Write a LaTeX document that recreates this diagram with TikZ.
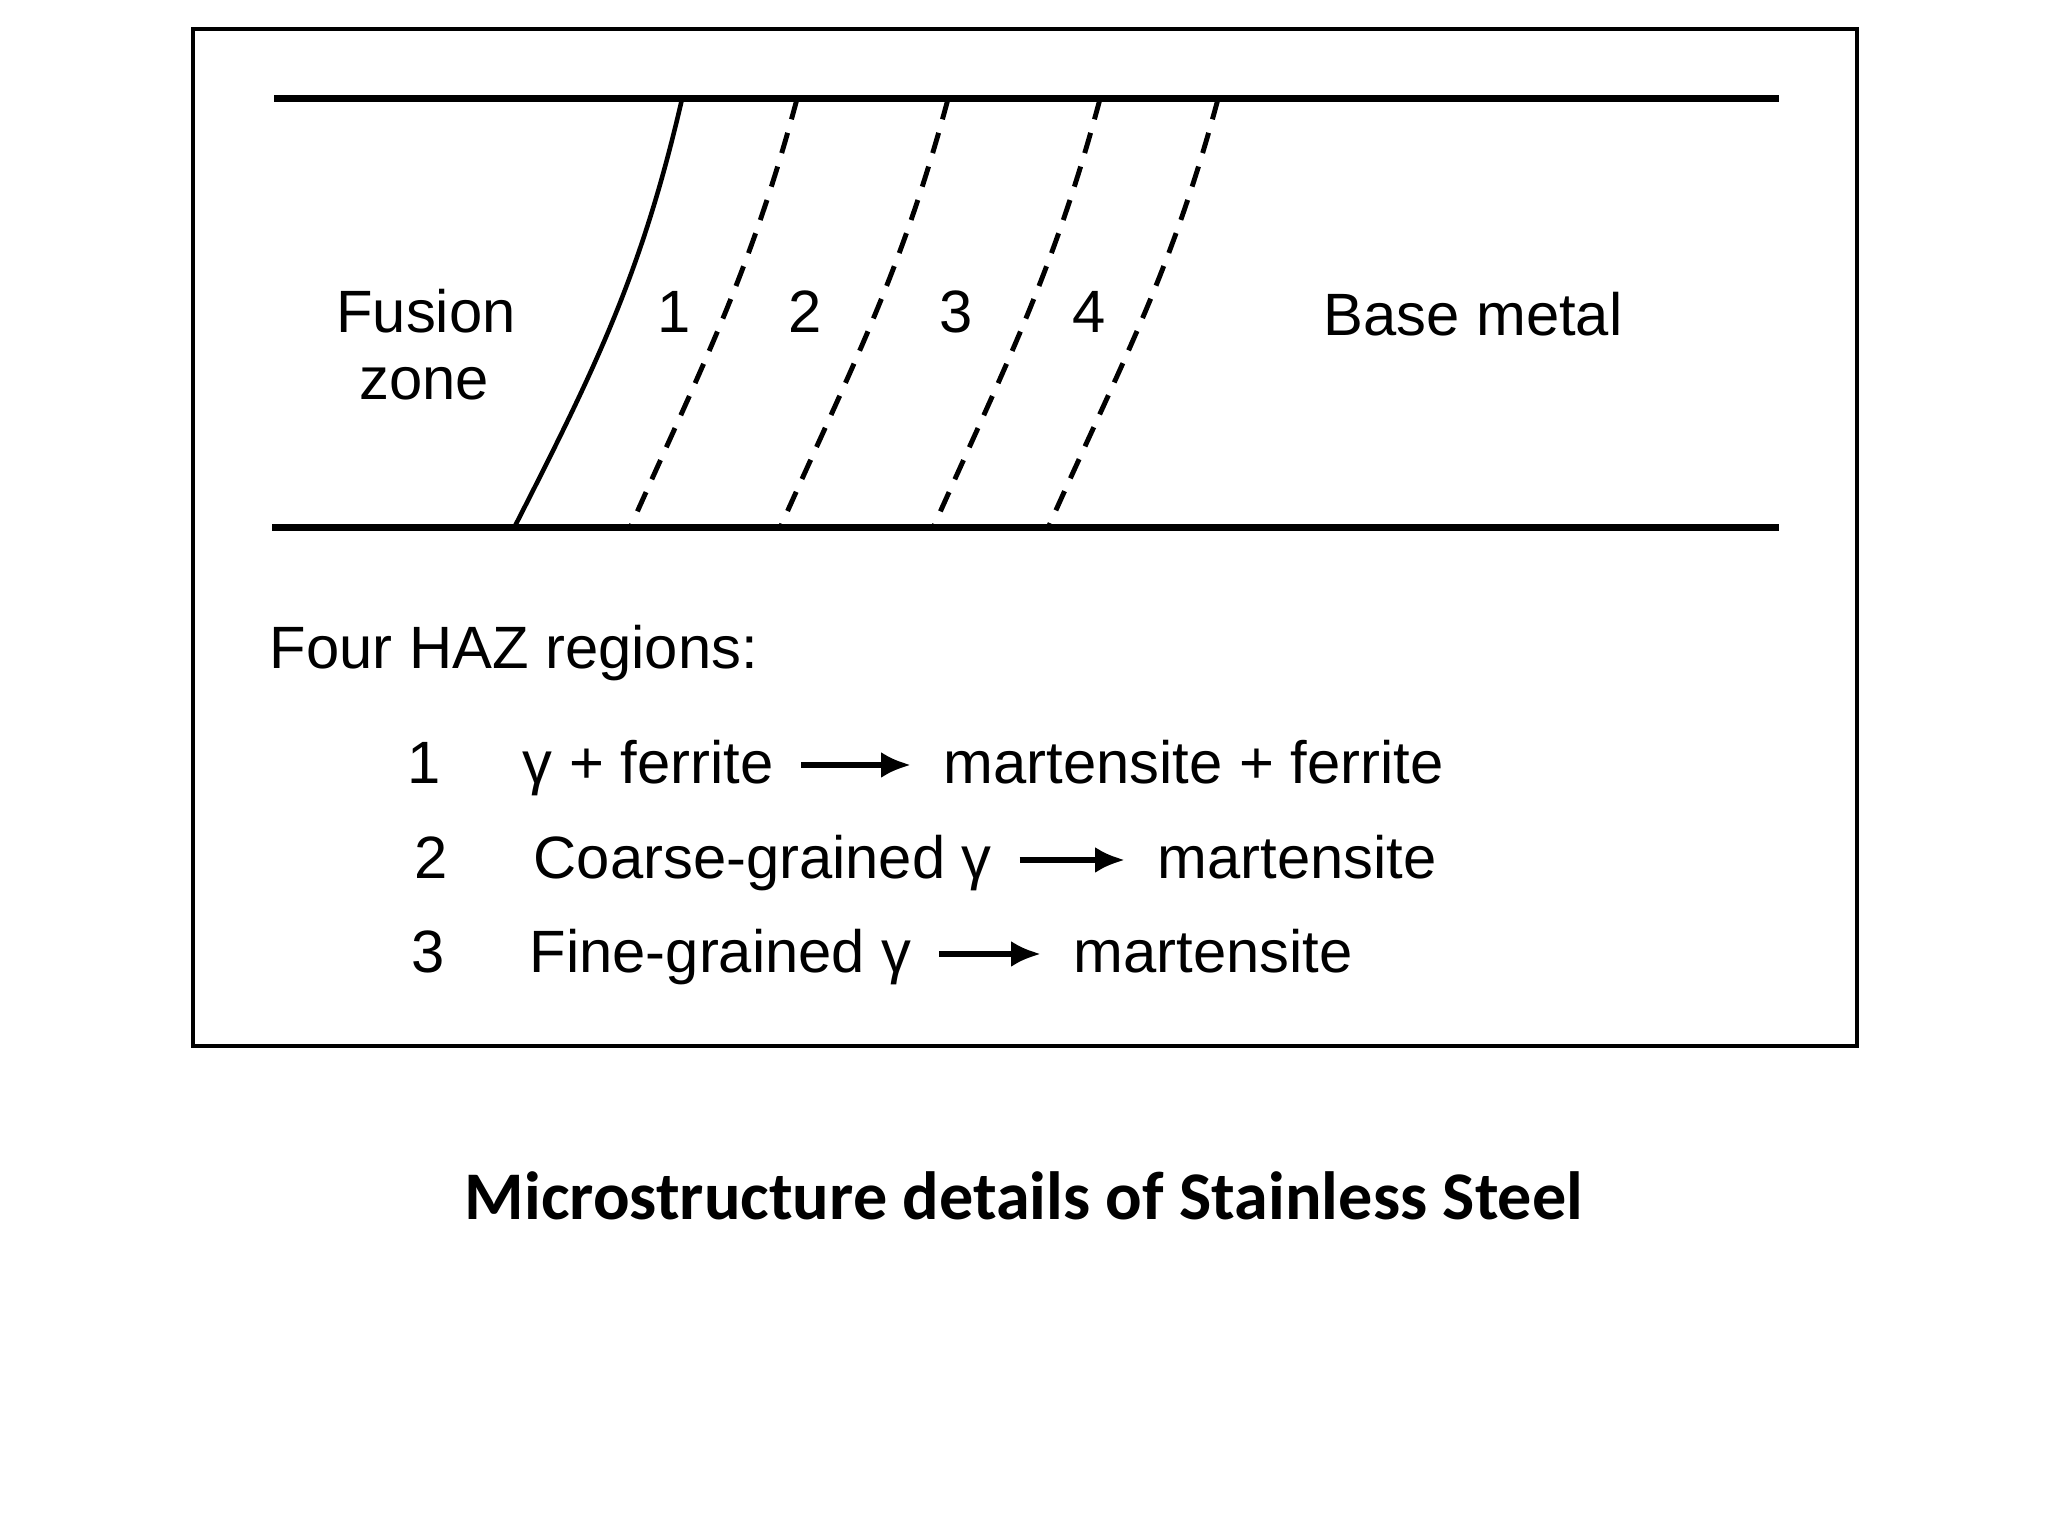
\documentclass[tikz,border=0pt]{standalone}
\usepackage{fontspec}
\setmainfont{Liberation Sans}
\newfontfamily\captionfont{Carlito}
\usetikzlibrary{arrows.meta}

\begin{document}
\begin{tikzpicture}[
    lbl/.style={inner sep=0pt,font=\fontsize{17}{20}\selectfont},
    plate/.style={line width=2pt},
    fusionline/.style={line width=1.3pt},
    hazline/.style={line width=1.4pt,dash pattern=on 6pt off 4pt},
    conv/.style={line width=1.6pt,-{Latex[length=3mm,width=2.6mm]}}]
      \useasboundingbox (0,0) rectangle (20.48,15.36);
      \draw[line width=1.2pt] (1.93,4.90) rectangle (18.57,15.07);
      \coordinate (pl) at (2.74,14.37);
      \coordinate (pr) at (17.79,14.37);
      \coordinate (ql) at (2.72,10.08);
      \coordinate (qr) at (17.79,10.08);
      \draw[plate] (pl) -- (pr);
      \draw[plate] (ql) -- (qr);
      \coordinate (t0) at (6.82,14.37);
      \coordinate (b0) at (5.14,10.08);
      \coordinate (t1) at (7.97,14.37);
      \coordinate (b1) at (6.30,10.08);
      \coordinate (t2) at (9.48,14.37);
      \coordinate (b2) at (7.80,10.08);
      \coordinate (t3) at (11.00,14.37);
      \coordinate (b3) at (9.33,10.08);
      \coordinate (t4) at (12.18,14.37);
      \coordinate (b4) at (10.48,10.08);
      \draw[fusionline] (t0) to[out=-103,in=63] (b0);
      \draw[hazline] (t1) to[out=-105,in=66] (b1);
      \draw[hazline] (t2) to[out=-105,in=66] (b2);
      \draw[hazline] (t3) to[out=-105,in=66] (b3);
      \draw[hazline] (t4) to[out=-105,in=66] (b4);
      \node[lbl,anchor=base] (fusion) at (4.26,12.03) {Fusion};
      \node[lbl,anchor=base] (zone) at (4.24,11.36) {zone};
      \node[lbl,anchor=base] (z1) at (6.74,12.03) {1};
      \node[lbl,anchor=base] (z2) at (8.05,12.03) {2};
      \node[lbl,anchor=base] (z3) at (9.56,12.03) {3};
      \node[lbl,anchor=base] (z4) at (10.89,12.03) {4};
      \node[lbl,anchor=base] (base) at (14.73,12.00) {Base metal};
      \node[lbl,anchor=base west] (haz) at (2.69,8.67) {Four HAZ regions:};
      \node[lbl,anchor=base] (n1) at (4.24,7.52) {1};
      \node[lbl,anchor=base] (n2) at (4.31,6.57) {2};
      \node[lbl,anchor=base] (n3) at (4.28,5.63) {3};
      \node[lbl,anchor=base west] (r1a) at (5.22,7.52) {γ + ferrite};
      \node[lbl,anchor=base west] (r1b) at (9.43,7.52) {martensite + ferrite};
      \node[lbl,anchor=base west] (r2a) at (5.33,6.57) {Coarse-grained γ};
      \node[lbl,anchor=base west] (r2b) at (11.57,6.57) {martensite};
      \node[lbl,anchor=base west] (r3a) at (5.29,5.63) {Fine-grained γ};
      \node[lbl,anchor=base west] (r3b) at (10.73,5.63) {martensite};
      \draw[conv] ([xshift=2.7mm,yshift=1.9mm]r1a.base east) -- ([xshift=-3.2mm,yshift=1.9mm]r1b.base west);
      \draw[conv] ([xshift=2.7mm,yshift=1.9mm]r2a.base east) -- ([xshift=-3.2mm,yshift=1.9mm]r2b.base west);
      \draw[conv] ([xshift=2.7mm,yshift=1.9mm]r3a.base east) -- ([xshift=-3.2mm,yshift=1.9mm]r3b.base west);
      \node[anchor=base,inner sep=0pt,font=\captionfont\bfseries\fontsize{19.4}{23}\selectfont] (caption) at (10.24,3.16) {Microstructure details of Stainless Steel};
    \end{tikzpicture}
\end{document}
